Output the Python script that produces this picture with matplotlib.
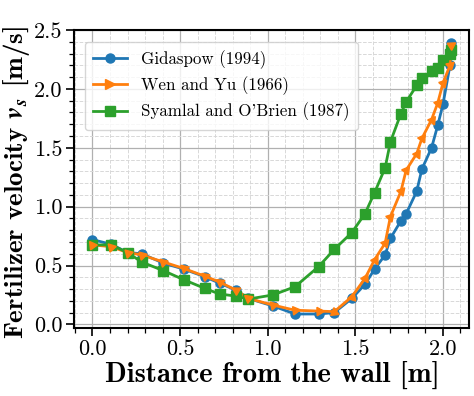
import numpy as np
import matplotlib
matplotlib.use("Agg")
import matplotlib.pyplot as plt
from matplotlib.lines import Line2D

# distance from the wall [m], shared by all three drag models
x = [0.0, 0.107, 0.2, 0.28, 0.405, 0.52, 0.64, 0.725, 0.82, 0.89,
     1.03, 1.156, 1.29, 1.38, 1.48, 1.555, 1.61, 1.67, 1.70, 1.76,
     1.79, 1.85, 1.88, 1.935, 1.97, 2.0, 2.04, 2.045]

gidaspow = [0.72, 0.68, 0.61, 0.60, 0.52, 0.47, 0.405, 0.35, 0.29, 0.22,
            0.156, 0.088, 0.088, 0.10, 0.22, 0.34, 0.47, 0.59, 0.73, 0.88,
            0.94, 1.13, 1.32, 1.50, 1.69, 1.87, 2.20, 2.39]
wen_yu = [0.675, 0.66, 0.61, 0.59, 0.53, 0.475, 0.41, 0.36, 0.29, 0.22,
          0.164, 0.12, 0.113, 0.108, 0.235, 0.39, 0.55, 0.69, 0.915, 1.13,
          1.31, 1.45, 1.58, 1.74, 1.88, 2.05, 2.20, 2.37]
syamlal = [0.675, 0.675, 0.61, 0.53, 0.456, 0.38, 0.306, 0.258, 0.24, 0.215,
           0.25, 0.32, 0.49, 0.637, 0.78, 0.94, 1.12, 1.33, 1.55, 1.79,
           1.89, 2.03, 2.09, 2.15, 2.18, 2.25, 2.30, 2.33]

labels = ["Gidaspow (1994)", "Wen and Yu (1966)", "Syamlal and O'Brien (1987)"]
colors = ["#1f77b4", "#ff7f0e", "#2ca02c"]

plt.rcParams["mathtext.fontset"] = "cm"
plt.rcParams["axes.formatter.use_mathtext"] = True

fig = plt.figure(figsize=(4.74, 3.96), dpi=100)
ax = fig.add_axes([0.157, 0.172, 0.833, 0.752])

ax.set_xlim(-0.103, 2.15)
ax.set_ylim(-0.03, 2.5)

ax.plot(x, gidaspow, "o-", color=colors[0], lw=2, ms=6.5, zorder=3)
ax.plot(x, wen_yu, "-", color=colors[1], lw=2, zorder=3)
ax.plot(x, syamlal, "s-", color=colors[2], lw=2, ms=6.5, zorder=3)

# Wen and Yu markers: triangles turned with the local slope (display space)
fig.canvas.draw()
pts = ax.transData.transform(np.column_stack([x, wen_yu]))
for i in range(len(x)):
    j0, j1 = max(i - 1, 0), min(i + 1, len(x) - 1)
    dx, dy = pts[j1] - pts[j0]
    theta = np.degrees(np.arctan2(dy, dx))
    ax.plot(x[i], wen_yu[i], marker=(3, 0, -90 - theta), color=colors[1],
            ms=7, ls="none", zorder=3)

handles = [
    Line2D([], [], color=colors[0], marker="o", lw=2, ms=6.5),
    Line2D([], [], color=colors[1], marker=">", lw=2, ms=7),
    Line2D([], [], color=colors[2], marker="s", lw=2, ms=6.5),
]
ax.legend(handles, labels, loc="upper left", prop={"family": "cmr10", "size": 12.2},
          handlelength=2.0, handletextpad=0.8, borderpad=0.5, labelspacing=0.45,
          framealpha=0.8, bbox_to_anchor=(0.005, 0.99))

ax.set_xticks([0.0, 0.5, 1.0, 1.5, 2.0])
ax.set_yticks([0.0, 0.5, 1.0, 1.5, 2.0, 2.5])
ax.set_xticks(np.arange(-0.1, 2.15, 0.1), minor=True)
ax.set_yticks(np.arange(0.0, 2.5, 0.1), minor=True)
ax.set_xticklabels(["0.0", "0.5", "1.0", "1.5", "2.0"], family="cmr10", fontsize=16)
ax.set_yticklabels(["0.0", "0.5", "1.0", "1.5", "2.0", "2.5"], family="cmr10", fontsize=16)

ax.tick_params(which="major", direction="out", length=6, width=1.2, pad=2.5)
ax.tick_params(which="minor", direction="out", length=3.5, width=0.9)
ax.grid(True, which="major", color="#b0b0b0", lw=0.9)
ax.grid(True, which="minor", color="#d8d8d8", lw=0.7, ls="--")
ax.set_axisbelow(True)
for s in ax.spines.values():
    s.set_linewidth(1.5)

ax.set_xlabel("Distance from the wall [m]", family="cmb10", fontsize=20.5, labelpad=1)
ylab = ax.set_ylabel(r"Fertilizer velocity $\mathbfit{v}_{\mathbfit{s}}$ [m/s]",
                     family="cmb10", fontsize=19.5)
ax.yaxis.set_label_coords(-0.108, 0.49)
try:
    fig.canvas.draw()
except Exception:
    ylab.set_text(r"Fertilizer velocity $v_s$ [m/s]")

fig.savefig("out.png", dpi=100)
